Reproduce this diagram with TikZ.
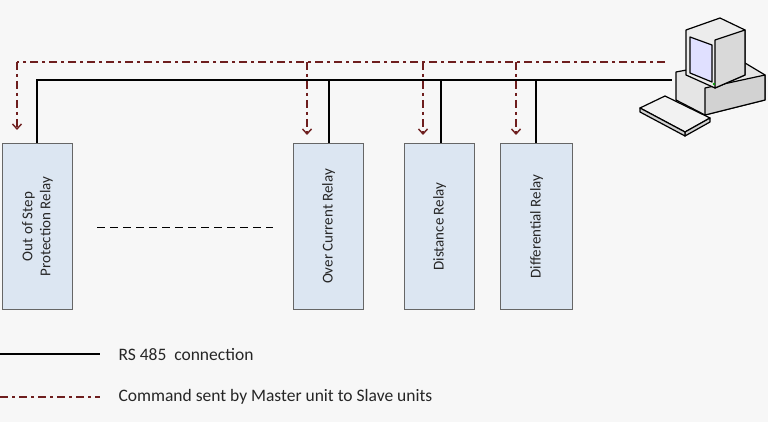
\documentclass[tikz,border=0pt]{standalone}
\usepackage{fontspec}
\setmainfont{Carlito}
\definecolor{cmd}{HTML}{6E1E1E}
\definecolor{boxf}{HTML}{DCE6F2}
\tikzset{
 relay/.style={draw=gray!80!black,line width=1pt,fill=boxf,minimum width=70pt,minimum height=166pt,anchor=north west,inner sep=0pt},
 rs/.style={black,line width=2pt},
 cmdl/.style={cmd,line width=1.4pt,dash pattern=on 8pt off 4pt on 3pt off 4pt},
 arr/.style={cmdl,-{Straight Barb[length=5pt,width=9pt]}},
 lbl/.style={font=\fontsize{15}{18}\selectfont,text=black!85},
 leg/.style={font=\fontsize{17.5}{20}\selectfont,text=black!85},
}
\usetikzlibrary{arrows.meta}
\begin{document}
\begin{tikzpicture}[x=1pt,y=-1pt]
\useasboundingbox[fill=white!97!black] (0,0) rectangle (768,422);
\node[relay] (r1) at (2,143) {};
\node[relay] (r2) at (293,143) {};
\node[relay] (r3) at (404,143) {};
\node[relay,minimum width=72pt] (r4) at (500,143) {};
\node[lbl,rotate=90,align=center] at (r1.center) {Out of Step\\Protection Relay};
\node[lbl,rotate=90] at (r2.center) {Over Current Relay};
\node[lbl,rotate=90] at (r3.center) {Distance Relay};
\node[lbl,rotate=90] at (r4.center) {Differential Relay};
% computer
\coordinate (pc) at (672,80);
\coordinate (pcd) at (665,62);
\begin{scope}[draw=black,line width=1.2pt,line join=round]
 \filldraw[fill=gray!20] (676,72) -- (740,60) -- (765,75) -- (765,100) -- (705,115) -- (676,100) -- cycle;
 \filldraw[fill=gray!35] (705,88) -- (765,75) -- (765,100) -- (705,115) -- cycle;
 \filldraw[fill=gray!15] (686,30) -- (720,18) -- (745,30) -- (745,75) -- (715,88) -- (686,75) -- cycle;
 \filldraw[fill=gray!30] (715,40) -- (745,30) -- (745,75) -- (715,88) -- cycle;
 \filldraw[fill=blue!12!white] (690,37) -- (712,45) -- (712,82) -- (690,73) -- cycle;
 \filldraw[fill=gray!10] (640,108) -- (665,96) -- (710,118) -- (685,132) -- cycle;
 \filldraw[fill=gray!35] (685,132) -- (710,118) -- (710,122) -- (685,136) -- cycle;
 \filldraw[fill=gray!35] (640,108) -- (685,132) -- (685,136) -- (640,112) -- cycle;
\end{scope}
\fill[green!60!black] (714,84) circle (1.4pt);
% RS485 bus
\draw[rs] (r1.north-|37,0) -- (37,80) -- (pc);
\draw[rs] (329,80) -- (r2.north-|329,0);
\draw[rs] (441,80) -- (r3.north-|441,0);
\draw[rs] (536,80) -- (r4.north-|536,0);
% commands
\draw[cmdl] (pcd) -- (17,62);
\draw[arr] (17,62) -- (17,130);
\draw[arr] (307,62) -- (307,135);
\draw[arr] (423,62) -- (423,135);
\draw[arr] (516,62) -- (516,135);
\draw[black,line width=1pt,dash pattern=on 8pt off 5pt] (97,227) -- (273,227);
% legend
\coordinate (l1) at (0,354);\coordinate (l1e) at (100,354);
\coordinate (l2) at (0,397);\coordinate (l2e) at (100,397);
\draw[black,line width=1.5pt] (l1) -- (l1e);
\draw[cmdl] (l2) -- (l2e);
\node[leg,anchor=west] at (115,355) {RS 485\ \ connection};
\node[leg,anchor=west] at (115,397) {Command sent by Master unit to Slave units};
\end{tikzpicture}
\end{document}
